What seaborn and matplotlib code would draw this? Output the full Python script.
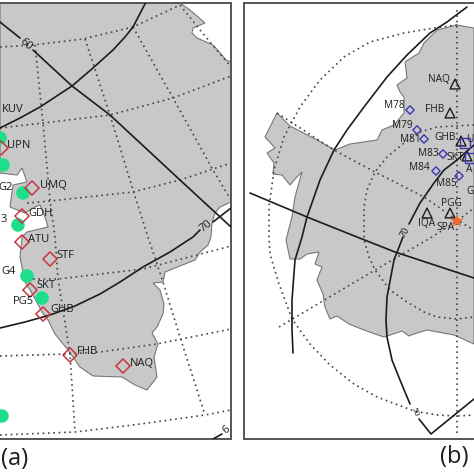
import matplotlib
matplotlib.use('Agg')
import matplotlib.pyplot as plt
import seaborn as sns

# Everything in image pixels, y going down
# Panel (a) land
land_a_x = [0, 180, 190, 205, 193, 192, 197, 213, 222, 226, 231, 231, 220, 215, 212, 211, 208, 200, 195, 165, 163,
            153, 160, 164, 163, 157, 152, 158, 154, 157, 147, 135, 122, 93, 80, 68, 55, 48, 42, 33, 25, 20, 22, 27,
            48, 45, 40, 33, 25, 10, 13, 27, 22, 17, 0]
land_a_y = [3, 3, 10, 23, 28, 33, 38, 45, 55, 60, 62, 202, 207, 213, 223, 237, 245, 252, 260, 272, 282,
            283, 290, 304, 314, 327, 333, 344, 357, 377, 390, 385, 377, 376, 367, 350, 334, 320, 312, 295, 282, 257,
            237, 232, 227, 217, 205, 208, 213, 207, 185, 182, 168, 175, 173]

# Panel (b) land
land_b_x = [457, 474, 474, 454, 427, 414, 409, 402, 384, 375, 364, 349, 337, 330, 325, 323, 317, 322, 315, 319, 307,
            300, 290, 286, 292, 295, 302, 296, 290, 282, 273, 274, 267, 275, 265, 277, 290, 317, 335, 350, 377, 382,
            394, 404, 404, 400, 397, 407, 405, 419, 424, 437]
land_b_y = [25, 28, 344, 335, 330, 334, 336, 331, 337, 334, 330, 324, 316, 319, 307, 294, 280, 267, 264, 252, 254,
            259, 259, 240, 217, 197, 172, 178, 185, 175, 174, 163, 153, 148, 137, 113, 126, 140, 150, 144, 140, 130,
            125, 113, 97, 92, 85, 78, 62, 53, 43, 30]

# Panel (a) lines
solid_a = [
    ([146, 133, 125, 113, 93, 72, 40, 20, 0], [2, 27, 37, 50, 68, 86, 107, 118, 128]),
    ([0, 20], [22, 38]),
    ([33, 72, 110, 180, 231], [50, 86, 115, 180, 227]),
    ([231, 213], [208, 222]),
    ([200, 193, 170, 143, 120, 100, 75, 50, 25, 0], [230, 237, 252, 267, 282, 294, 306, 315, 322, 328]),
    ([213, 222], [439, 434]),
]
dotted_a = [
    ([0, 33, 83, 133, 180], [47, 45, 39, 27, 5]),
    ([0, 43, 110, 173, 231], [128, 123, 115, 98, 76]),
    ([27, 50, 133, 180, 231], [203, 201, 192, 180, 163]),
    ([33, 58, 143, 231], [279, 279, 269, 246]),
    ([0, 67, 100, 157, 231], [356, 354, 352, 344, 329]),
    ([0, 75, 133, 205, 231], [435, 432, 425, 415, 410]),
    ([35, 43, 50, 55, 58, 70, 75], [45, 123, 200, 237, 279, 354, 432]),
    ([85, 110, 133, 148, 163, 180, 205], [39, 115, 190, 237, 282, 337, 415]),
    ([133, 173, 213, 231], [27, 98, 170, 200]),
    ([180, 200, 231], [5, 30, 67]),
]

# Panel (b) lines
solid_b = [
    ([467, 447, 430, 407, 387, 364, 347, 334, 320, 307, 302, 295, 292, 292, 293],
     [7, 22, 33, 55, 77, 107, 130, 150, 180, 217, 237, 260, 300, 330, 353]),
    ([250, 307, 357, 395, 474], [193, 217, 237, 252, 278]),
    ([409, 420, 434, 444, 457, 474], [224, 203, 183, 170, 160, 145]),
    ([403, 394, 387, 386, 387, 392, 400, 410], [237, 260, 297, 320, 337, 360, 380, 404]),
    ([419, 431, 474], [419, 434, 399]),
]
dotted_b = [
    ([457, 434, 404, 370, 344, 320, 300, 284, 274, 269, 269, 270, 279, 292, 310, 330, 354, 377, 414, 437, 457, 474],
     [25, 28, 33, 42, 57, 80, 107, 137, 170, 207, 237, 254, 284, 319, 344, 365, 384, 397, 411, 415, 416, 415]),
    ([474, 437, 417, 404, 387, 375, 367, 364, 364, 369, 375, 390, 407, 424, 437, 457, 474],
     [125, 127, 133, 143, 157, 172, 190, 207, 240, 257, 270, 290, 302, 312, 317, 319, 317]),
    ([279, 375, 432, 457, 474], [327, 270, 237, 221, 208]),
    ([277, 334, 375, 424, 457, 474], [113, 150, 172, 197, 220, 230]),
    ([457, 457], [10, 434]),
]

# Panel (a) stations
circle_a_x = [0, 3, 23, 18, 27, 42, 2]
circle_a_y = [138, 165, 193, 225, 276, 298, 416]
diamond_a_x = [1, 32, 22, 22, 50, 30, 43, 70, 123]
diamond_a_y = [148, 188, 216, 242, 259, 290, 314, 355, 366]

labels_a = ['KUV', 'UPN', 'UMQ', 'G2', '3', 'GDH', 'ATU', 'STF', 'G4', 'SKT', 'PG5', 'GHB', 'FHB', 'NAQ']
labels_a_x = [13, 19, 53, 6, 4, 41, 39, 65, 9, 46, 23, 62, 87, 142]
labels_a_y = [110, 145, 185, 188, 220, 213, 239, 255, 272, 286, 302, 310, 351, 363]

# Panel (b) stations
triangle_b_x = [455, 450, 461, 467, 427, 450]
triangle_b_y = [84, 113, 141, 156, 213, 213]
diamond_b_x = [410, 417, 424, 443, 436, 459]
diamond_b_y = [110, 130, 139, 154, 171, 176]
square_b_x = [465, 470]
square_b_y = [143, 158]
star_b_x = [457]
star_b_y = [221]

labels_b = ['NAQ', 'FHB', 'GHB', 'U', 'SKT', 'A', 'G', 'M78', 'M79', 'M81', 'M83', 'M84', 'M85', 'PGG', 'IQA', 'SPA']
labels_b_x = [439, 435, 445, 470, 455, 469, 470, 394, 402, 410, 428, 419, 446, 451, 427, 446]
labels_b_y = [80, 109, 137, 140, 157, 170, 191, 106, 126, 140, 153, 167, 184, 203, 224, 228]


def draw_lines(ax, lines, dotted):
    for xs, ys in lines:
        if dotted:
            sns.lineplot(x=xs, y=ys, sort=False, estimator=None, ax=ax, color='#444444', linewidth=1.2,
                         linestyle=(0, (1, 2.2)), zorder=2)
        else:
            sns.lineplot(x=xs, y=ys, sort=False, estimator=None, ax=ax, color='#1c1c1c', linewidth=1.2, zorder=3)


def draw_labels(ax, names, xs, ys, size):
    for name, x, y in zip(names, xs, ys):
        ax.text(x, y, name, ha='center', va='center', fontsize=size, color='#1c1c1c', zorder=6)


sns.set_theme(style='white')
plt.rcParams['font.family'] = ['Open Sans', 'DejaVu Sans']

fig = plt.figure(figsize=(4.74, 4.74), dpi=100)
ax_a = fig.add_axes([0, 35 / 474, 231 / 474, 436 / 474])
ax_b = fig.add_axes([244 / 474, 35 / 474, 230 / 474, 436 / 474])

for ax, xlim in [(ax_a, (0, 231)), (ax_b, (244, 474))]:
    ax.set_xlim(xlim)
    ax.set_ylim(439, 3)
    ax.set_xticks([])
    ax.set_yticks([])
    ax.set_xlabel('')
    ax.set_ylabel('')
    for spine in ax.spines.values():
        spine.set_color('#555555')
        spine.set_linewidth(1.4)
ax_a.spines['left'].set_visible(False)
ax_b.spines['right'].set_visible(False)

# (a) Greenland west coast
ax_a.fill(land_a_x, land_a_y, facecolor='#c8c8c8', edgecolor='#777777', linewidth=0.8, zorder=1)
draw_lines(ax_a, dotted_a, True)
draw_lines(ax_a, solid_a, False)
sns.scatterplot(x=circle_a_x, y=circle_a_y, ax=ax_a, color='#1ede8c', s=95, edgecolor='none', zorder=4)
sns.scatterplot(x=diamond_a_x, y=diamond_a_y, ax=ax_a, marker='D', s=52, facecolor='none', edgecolor='#c4363c',
                linewidth=1.1, zorder=5)
draw_labels(ax_a, labels_a, labels_a_x, labels_a_y, 8)
ax_a.text(26, 44, '60', rotation=-42, ha='center', va='center', fontsize=8, color='#1c1c1c', zorder=6)
ax_a.text(206, 226, '70', rotation=38, ha='center', va='center', fontsize=8, color='#1c1c1c', zorder=6)
ax_a.text(226, 430, '6', rotation=38, ha='center', va='center', fontsize=8, color='#1c1c1c', zorder=6)

# (b) polar view
ax_b.fill(land_b_x, land_b_y, facecolor='#c8c8c8', edgecolor='#777777', linewidth=0.8, zorder=1)
draw_lines(ax_b, dotted_b, True)
draw_lines(ax_b, solid_b, False)
sns.scatterplot(x=triangle_b_x, y=triangle_b_y, ax=ax_b, marker='^', s=50, facecolor='none', edgecolor='#1c1c1c',
                linewidth=1.0, zorder=5)
sns.scatterplot(x=diamond_b_x, y=diamond_b_y, ax=ax_b, marker='D', s=18, facecolor='none', edgecolor='#3c36b4',
                linewidth=1.0, zorder=5)
sns.scatterplot(x=square_b_x, y=square_b_y, ax=ax_b, marker='s', s=42, facecolor='none', edgecolor='#3c36b4',
                linewidth=1.0, zorder=5)
sns.scatterplot(x=star_b_x, y=star_b_y, ax=ax_b, marker='*', s=110, color='#f0682a', edgecolor='none', zorder=6)
draw_labels(ax_b, labels_b, labels_b_x, labels_b_y, 7.3)
ax_b.text(405, 232, '70', rotation=60, ha='center', va='center', fontsize=6.5, color='#1c1c1c', zorder=6)
ax_b.text(414, 412, '50', rotation=-70, ha='center', va='center', fontsize=6, color='#1c1c1c', zorder=6)

fig.text(15 / 474, 1 - 459 / 474, '(a)', ha='center', va='center', fontsize=17, color='#1c1c1c')
fig.text(454 / 474, 1 - 457 / 474, '(b)', ha='center', va='center', fontsize=17, color='#1c1c1c')

fig.savefig('out.png', dpi=100)
